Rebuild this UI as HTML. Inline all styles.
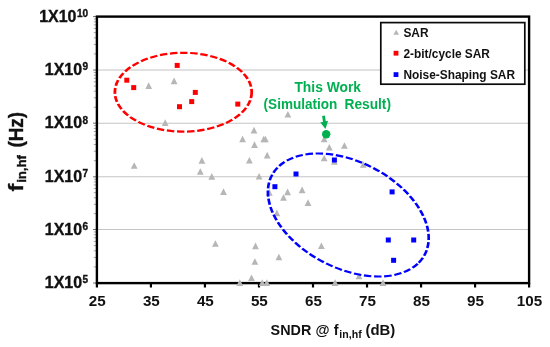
<!DOCTYPE html>
<html lang="en"><head><meta charset="utf-8"><title>SAR ADC survey</title>
<style>html,body{margin:0;padding:0;background:#fff}body{width:550px;height:347px;overflow:hidden}svg{display:block}text{font-family:"Liberation Sans",Arial,Helvetica,sans-serif;font-weight:bold;fill:#111}.yl,.yl text{stroke:#111;stroke-width:0.35px}.yl{font-family:"Liberation Sans",Arial,sans-serif}</style></head><body>
<svg width="550" height="347" viewBox="0 0 550 347">
<rect width="550" height="347" fill="#fff"/>
<line x1="96.9" x2="529.1" y1="70.0" y2="70.0" stroke="#c4c4c4" stroke-width="1.1"/>
<line x1="96.9" x2="529.1" y1="123.2" y2="123.2" stroke="#c4c4c4" stroke-width="1.1"/>
<line x1="96.9" x2="529.1" y1="176.8" y2="176.8" stroke="#c4c4c4" stroke-width="1.1"/>
<line x1="96.9" x2="529.1" y1="229.5" y2="229.5" stroke="#c4c4c4" stroke-width="1.1"/>
<line x1="93.80000000000001" x2="96.9" y1="53.92" y2="53.92" stroke="#666" stroke-width="0.6"/>
<line x1="93.80000000000001" x2="96.9" y1="44.52" y2="44.52" stroke="#666" stroke-width="0.6"/>
<line x1="93.80000000000001" x2="96.9" y1="37.85" y2="37.85" stroke="#666" stroke-width="0.6"/>
<line x1="93.80000000000001" x2="96.9" y1="32.68" y2="32.68" stroke="#666" stroke-width="0.6"/>
<line x1="93.80000000000001" x2="96.9" y1="28.45" y2="28.45" stroke="#666" stroke-width="0.6"/>
<line x1="93.80000000000001" x2="96.9" y1="24.87" y2="24.87" stroke="#666" stroke-width="0.6"/>
<line x1="93.80000000000001" x2="96.9" y1="21.77" y2="21.77" stroke="#666" stroke-width="0.6"/>
<line x1="93.80000000000001" x2="96.9" y1="19.04" y2="19.04" stroke="#666" stroke-width="0.6"/>
<line x1="93.80000000000001" x2="96.9" y1="107.19" y2="107.19" stroke="#666" stroke-width="0.6"/>
<line x1="93.80000000000001" x2="96.9" y1="97.82" y2="97.82" stroke="#666" stroke-width="0.6"/>
<line x1="93.80000000000001" x2="96.9" y1="91.17" y2="91.17" stroke="#666" stroke-width="0.6"/>
<line x1="93.80000000000001" x2="96.9" y1="86.01" y2="86.01" stroke="#666" stroke-width="0.6"/>
<line x1="93.80000000000001" x2="96.9" y1="81.80" y2="81.80" stroke="#666" stroke-width="0.6"/>
<line x1="93.80000000000001" x2="96.9" y1="78.24" y2="78.24" stroke="#666" stroke-width="0.6"/>
<line x1="93.80000000000001" x2="96.9" y1="75.16" y2="75.16" stroke="#666" stroke-width="0.6"/>
<line x1="93.80000000000001" x2="96.9" y1="72.43" y2="72.43" stroke="#666" stroke-width="0.6"/>
<line x1="93.80000000000001" x2="96.9" y1="160.66" y2="160.66" stroke="#666" stroke-width="0.6"/>
<line x1="93.80000000000001" x2="96.9" y1="151.23" y2="151.23" stroke="#666" stroke-width="0.6"/>
<line x1="93.80000000000001" x2="96.9" y1="144.53" y2="144.53" stroke="#666" stroke-width="0.6"/>
<line x1="93.80000000000001" x2="96.9" y1="139.34" y2="139.34" stroke="#666" stroke-width="0.6"/>
<line x1="93.80000000000001" x2="96.9" y1="135.09" y2="135.09" stroke="#666" stroke-width="0.6"/>
<line x1="93.80000000000001" x2="96.9" y1="131.50" y2="131.50" stroke="#666" stroke-width="0.6"/>
<line x1="93.80000000000001" x2="96.9" y1="128.39" y2="128.39" stroke="#666" stroke-width="0.6"/>
<line x1="93.80000000000001" x2="96.9" y1="125.65" y2="125.65" stroke="#666" stroke-width="0.6"/>
<line x1="93.80000000000001" x2="96.9" y1="213.64" y2="213.64" stroke="#666" stroke-width="0.6"/>
<line x1="93.80000000000001" x2="96.9" y1="204.36" y2="204.36" stroke="#666" stroke-width="0.6"/>
<line x1="93.80000000000001" x2="96.9" y1="197.77" y2="197.77" stroke="#666" stroke-width="0.6"/>
<line x1="93.80000000000001" x2="96.9" y1="192.66" y2="192.66" stroke="#666" stroke-width="0.6"/>
<line x1="93.80000000000001" x2="96.9" y1="188.49" y2="188.49" stroke="#666" stroke-width="0.6"/>
<line x1="93.80000000000001" x2="96.9" y1="184.96" y2="184.96" stroke="#666" stroke-width="0.6"/>
<line x1="93.80000000000001" x2="96.9" y1="181.91" y2="181.91" stroke="#666" stroke-width="0.6"/>
<line x1="93.80000000000001" x2="96.9" y1="179.21" y2="179.21" stroke="#666" stroke-width="0.6"/>
<line x1="93.80000000000001" x2="96.9" y1="266.89" y2="266.89" stroke="#666" stroke-width="0.6"/>
<line x1="93.80000000000001" x2="96.9" y1="257.47" y2="257.47" stroke="#666" stroke-width="0.6"/>
<line x1="93.80000000000001" x2="96.9" y1="250.79" y2="250.79" stroke="#666" stroke-width="0.6"/>
<line x1="93.80000000000001" x2="96.9" y1="245.61" y2="245.61" stroke="#666" stroke-width="0.6"/>
<line x1="93.80000000000001" x2="96.9" y1="241.37" y2="241.37" stroke="#666" stroke-width="0.6"/>
<line x1="93.80000000000001" x2="96.9" y1="237.79" y2="237.79" stroke="#666" stroke-width="0.6"/>
<line x1="93.80000000000001" x2="96.9" y1="234.68" y2="234.68" stroke="#666" stroke-width="0.6"/>
<line x1="93.80000000000001" x2="96.9" y1="231.95" y2="231.95" stroke="#666" stroke-width="0.6"/>
<line x1="93.10000000000001" x2="96.9" y1="16.6" y2="16.6" stroke="#444" stroke-width="0.8"/>
<line x1="93.10000000000001" x2="96.9" y1="70.0" y2="70.0" stroke="#444" stroke-width="0.8"/>
<line x1="93.10000000000001" x2="96.9" y1="123.2" y2="123.2" stroke="#444" stroke-width="0.8"/>
<line x1="93.10000000000001" x2="96.9" y1="176.8" y2="176.8" stroke="#444" stroke-width="0.8"/>
<line x1="93.10000000000001" x2="96.9" y1="229.5" y2="229.5" stroke="#444" stroke-width="0.8"/>
<line x1="93.10000000000001" x2="96.9" y1="283.0" y2="283.0" stroke="#444" stroke-width="0.8"/>
<line x1="96.90" x2="96.90" y1="283.1" y2="287.5" stroke="#000" stroke-width="2.2"/>
<line x1="150.93" x2="150.93" y1="283.1" y2="287.5" stroke="#000" stroke-width="2.2"/>
<line x1="204.95" x2="204.95" y1="283.1" y2="287.5" stroke="#000" stroke-width="2.2"/>
<line x1="258.98" x2="258.98" y1="283.1" y2="287.5" stroke="#000" stroke-width="2.2"/>
<line x1="313.00" x2="313.00" y1="283.1" y2="287.5" stroke="#000" stroke-width="2.2"/>
<line x1="367.02" x2="367.02" y1="283.1" y2="287.5" stroke="#000" stroke-width="2.2"/>
<line x1="421.05" x2="421.05" y1="283.1" y2="287.5" stroke="#000" stroke-width="2.2"/>
<line x1="475.08" x2="475.08" y1="283.1" y2="287.5" stroke="#000" stroke-width="2.2"/>
<line x1="529.10" x2="529.10" y1="283.1" y2="287.5" stroke="#000" stroke-width="2.2"/>
<rect x="96.9" y="16.6" width="432.20000000000005" height="266.5" fill="none" stroke="#000" stroke-width="2.4"/>
<polygon points="145.30,88.95 152.10,88.95 148.70,82.35" fill="#b6b6b6"/>
<polygon points="170.70,84.15 177.50,84.15 174.10,77.55" fill="#b6b6b6"/>
<polygon points="161.80,125.95 168.60,125.95 165.20,119.35" fill="#b6b6b6"/>
<polygon points="284.50,117.55 291.30,117.55 287.90,110.95" fill="#b6b6b6"/>
<polygon points="130.80,168.75 137.60,168.75 134.20,162.15" fill="#b6b6b6"/>
<polygon points="198.50,163.65 205.30,163.65 201.90,157.05" fill="#b6b6b6"/>
<polygon points="196.90,174.85 203.70,174.85 200.30,168.25" fill="#b6b6b6"/>
<polygon points="208.40,179.65 215.20,179.65 211.80,173.05" fill="#b6b6b6"/>
<polygon points="220.10,194.95 226.90,194.95 223.50,188.35" fill="#b6b6b6"/>
<polygon points="250.60,133.45 257.40,133.45 254.00,126.85" fill="#b6b6b6"/>
<polygon points="239.20,142.35 246.00,142.35 242.60,135.75" fill="#b6b6b6"/>
<polygon points="260.30,142.35 267.10,142.35 263.70,135.75" fill="#b6b6b6"/>
<polygon points="262.00,142.35 268.80,142.35 265.40,135.75" fill="#b6b6b6"/>
<polygon points="251.10,147.95 257.90,147.95 254.50,141.35" fill="#b6b6b6"/>
<polygon points="263.80,158.45 270.60,158.45 267.20,151.85" fill="#b6b6b6"/>
<polygon points="246.00,163.55 252.80,163.55 249.40,156.95" fill="#b6b6b6"/>
<polygon points="255.70,179.55 262.50,179.55 259.10,172.95" fill="#b6b6b6"/>
<polygon points="320.80,142.35 327.60,142.35 324.20,135.75" fill="#b6b6b6"/>
<polygon points="325.90,150.55 332.70,150.55 329.30,143.95" fill="#b6b6b6"/>
<polygon points="341.00,148.75 347.80,148.75 344.40,142.15" fill="#b6b6b6"/>
<polygon points="320.80,161.25 327.60,161.25 324.20,154.65" fill="#b6b6b6"/>
<polygon points="331.00,164.75 337.80,164.75 334.40,158.15" fill="#b6b6b6"/>
<polygon points="359.90,167.75 366.70,167.75 363.30,161.15" fill="#b6b6b6"/>
<polygon points="265.90,195.65 272.70,195.65 269.30,189.05" fill="#b6b6b6"/>
<polygon points="284.20,195.15 291.00,195.15 287.60,188.55" fill="#b6b6b6"/>
<polygon points="280.10,200.75 286.90,200.75 283.50,194.15" fill="#b6b6b6"/>
<polygon points="298.70,193.15 305.50,193.15 302.10,186.55" fill="#b6b6b6"/>
<polygon points="304.60,205.95 311.40,205.95 308.00,199.35" fill="#b6b6b6"/>
<polygon points="273.50,216.25 280.30,216.25 276.90,209.65" fill="#b6b6b6"/>
<polygon points="252.10,249.15 258.90,249.15 255.50,242.55" fill="#b6b6b6"/>
<polygon points="318.00,249.05 324.80,249.05 321.40,242.45" fill="#b6b6b6"/>
<polygon points="275.50,260.25 282.30,260.25 278.90,253.65" fill="#b6b6b6"/>
<polygon points="251.50,264.85 258.30,264.85 254.90,258.25" fill="#b6b6b6"/>
<polygon points="212.00,246.75 218.80,246.75 215.40,240.15" fill="#b6b6b6"/>
<polygon points="248.10,281.05 254.90,281.05 251.50,274.45" fill="#b6b6b6"/>
<polygon points="236.40,285.95 243.20,285.95 239.80,279.35" fill="#b6b6b6"/>
<polygon points="258.80,285.95 265.60,285.95 262.20,279.35" fill="#b6b6b6"/>
<polygon points="263.40,285.95 270.20,285.95 266.80,279.35" fill="#b6b6b6"/>
<polygon points="355.60,279.25 362.40,279.25 359.00,272.65" fill="#b6b6b6"/>
<polygon points="331.70,285.95 338.50,285.95 335.10,279.35" fill="#b6b6b6"/>
<polygon points="379.60,285.95 386.40,285.95 383.00,279.35" fill="#b6b6b6"/>
<rect x="124.30" y="77.70" width="5.0" height="5.0" fill="#ff0000"/>
<rect x="131.20" y="85.10" width="5.0" height="5.0" fill="#ff0000"/>
<rect x="174.70" y="62.90" width="5.0" height="5.0" fill="#ff0000"/>
<rect x="192.80" y="89.90" width="5.0" height="5.0" fill="#ff0000"/>
<rect x="189.20" y="99.10" width="5.0" height="5.0" fill="#ff0000"/>
<rect x="177.00" y="104.20" width="5.0" height="5.0" fill="#ff0000"/>
<rect x="235.30" y="101.60" width="5.0" height="5.0" fill="#ff0000"/>
<rect x="331.90" y="157.50" width="5.0" height="5.0" fill="#0000ff"/>
<rect x="293.50" y="171.50" width="5.0" height="5.0" fill="#0000ff"/>
<rect x="272.40" y="184.20" width="5.0" height="5.0" fill="#0000ff"/>
<rect x="389.60" y="189.40" width="5.0" height="5.0" fill="#0000ff"/>
<rect x="385.80" y="237.50" width="5.0" height="5.0" fill="#0000ff"/>
<rect x="411.20" y="237.50" width="5.0" height="5.0" fill="#0000ff"/>
<rect x="391.10" y="257.80" width="5.0" height="5.0" fill="#0000ff"/>
<g transform="translate(183.3 92.2) scale(1.24 1)"><ellipse cx="0" cy="0" rx="55.16" ry="39.4" fill="none" stroke="#ff0000" stroke-width="2.25" stroke-dasharray="6 2.2"/></g>
<g transform="translate(348.3 215.0) scale(1.24 1)"><ellipse cx="0" cy="0" rx="74.2" ry="49.8" transform="rotate(41)" fill="none" stroke="#0000ff" stroke-width="2.15" stroke-dasharray="6 2.2"/></g>
<circle cx="326.2" cy="134.3" r="4.2" fill="#00b050"/>
<path d="M323.5 115.7 L324.6 123" stroke="#00b050" stroke-width="2.8" fill="none"/>
<polygon points="320.3,122.4 328.1,120.7 325.5,129" fill="#00b050"/>
<text x="294.4" y="92.4" font-size="14" style="fill:#00b050" textLength="66.6" lengthAdjust="spacingAndGlyphs">This Work</text>
<text x="263.6" y="108.8" font-size="14" style="fill:#00b050" textLength="73.8" lengthAdjust="spacingAndGlyphs">(Simulation</text>
<text x="344.5" y="108.8" font-size="14" style="fill:#00b050" textLength="46.5" lengthAdjust="spacingAndGlyphs">Result)</text>
<rect x="380.8" y="22.6" width="144" height="61.6" fill="#fff" stroke="#0a0a0a" stroke-width="1.7"/>
<polygon points="393.40,34.75 399.00,34.75 396.20,29.75" fill="#b6b6b6"/>
<rect x="393.60" y="50.80" width="4.8" height="4.8" fill="#ff0000"/>
<rect x="393.60" y="72.20" width="4.8" height="4.8" fill="#0000ff"/>
<text x="403.4" y="36.6" font-size="11.9">SAR</text>
<text x="403.4" y="57.9" font-size="11.9">2-bit/cycle SAR</text>
<text x="403.4" y="78.6" font-size="11.9">Noise-Shaping SAR</text>
<text x="97.30" y="306.4" text-anchor="middle" font-size="15.2">25</text>
<text x="151.33" y="306.4" text-anchor="middle" font-size="15.2">35</text>
<text x="205.35" y="306.4" text-anchor="middle" font-size="15.2">45</text>
<text x="259.38" y="306.4" text-anchor="middle" font-size="15.2">55</text>
<text x="313.40" y="306.4" text-anchor="middle" font-size="15.2">65</text>
<text x="367.42" y="306.4" text-anchor="middle" font-size="15.2">75</text>
<text x="421.45" y="306.4" text-anchor="middle" font-size="15.2">85</text>
<text x="475.48" y="306.4" text-anchor="middle" font-size="15.2">95</text>
<text x="529.50" y="306.4" text-anchor="middle" font-size="15.2">105</text>
<text class="yl" x="39.20" y="21.8" font-size="15.8" textLength="37.3" lengthAdjust="spacingAndGlyphs">1X10</text>
<text class="yl" x="77.00" y="16.9" font-size="10.6" textLength="11.2" lengthAdjust="spacingAndGlyphs">10</text>
<text class="yl" x="44.80" y="75.2" font-size="15.8" textLength="37.3" lengthAdjust="spacingAndGlyphs">1X10</text>
<text class="yl" x="82.60" y="70.3" font-size="10.6" textLength="5.6" lengthAdjust="spacingAndGlyphs">9</text>
<text class="yl" x="44.80" y="128.4" font-size="15.8" textLength="37.3" lengthAdjust="spacingAndGlyphs">1X10</text>
<text class="yl" x="82.60" y="123.5" font-size="10.6" textLength="5.6" lengthAdjust="spacingAndGlyphs">8</text>
<text class="yl" x="44.80" y="182.0" font-size="15.8" textLength="37.3" lengthAdjust="spacingAndGlyphs">1X10</text>
<text class="yl" x="82.60" y="177.1" font-size="10.6" textLength="5.6" lengthAdjust="spacingAndGlyphs">7</text>
<text class="yl" x="44.80" y="234.7" font-size="15.8" textLength="37.3" lengthAdjust="spacingAndGlyphs">1X10</text>
<text class="yl" x="82.60" y="229.8" font-size="10.6" textLength="5.6" lengthAdjust="spacingAndGlyphs">6</text>
<text class="yl" x="44.80" y="288.2" font-size="15.8" textLength="37.3" lengthAdjust="spacingAndGlyphs">1X10</text>
<text class="yl" x="82.60" y="283.3" font-size="10.6" textLength="5.6" lengthAdjust="spacingAndGlyphs">5</text>
<text x="270.6" y="335.2" font-size="14.4" textLength="40.7" lengthAdjust="spacingAndGlyphs">SNDR</text>
<text x="315.4" y="335.2" font-size="14.4">@</text>
<text x="333.7" y="335.2" font-size="14.4">f</text>
<text x="339.3" y="338.2" font-size="10.6" textLength="22.4" lengthAdjust="spacingAndGlyphs">in,hf</text>
<text x="365.5" y="335.2" font-size="14.4" textLength="29.8" lengthAdjust="spacingAndGlyphs">(dB)</text>
<g class="yl" transform="translate(22.9 191.4) rotate(-90)">
<text x="0" y="0" font-size="20.4" textLength="7.7" lengthAdjust="spacingAndGlyphs">f</text>
<text x="8.6" y="3.2" font-size="12.2" textLength="27.7" lengthAdjust="spacingAndGlyphs">in,hf</text>
<text x="43.8" y="0" font-size="20.4" textLength="35.6" lengthAdjust="spacingAndGlyphs">(Hz)</text>
</g>
</svg></body></html>
